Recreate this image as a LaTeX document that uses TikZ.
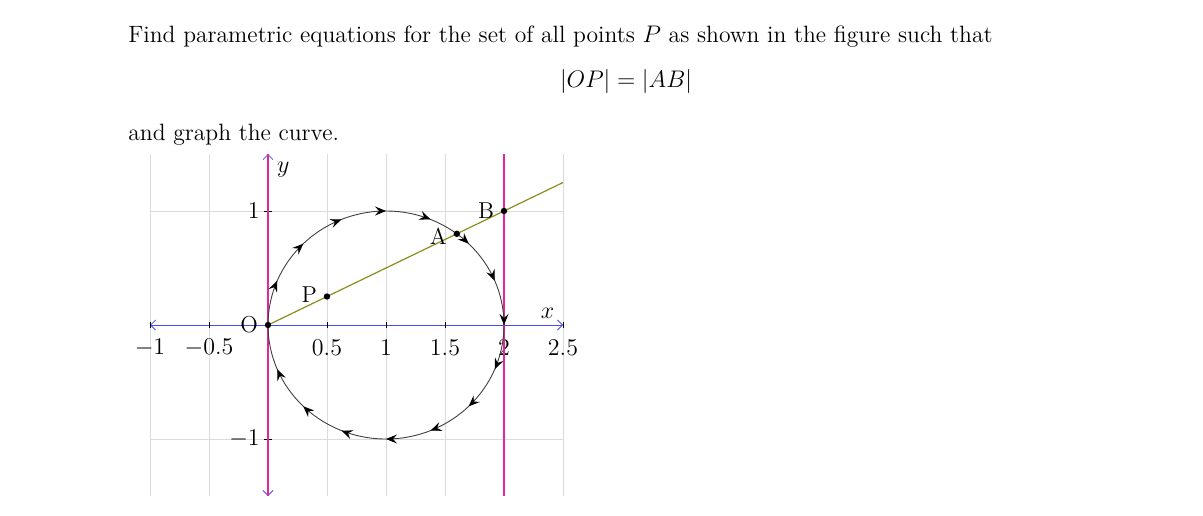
\documentclass[tikz,border=0pt]{standalone}
\usepackage{amsmath}
\usetikzlibrary{arrows.meta,decorations.markings}
\definecolor{Vline}{HTML}{E6259B}
\definecolor{Chord}{HTML}{8C8C1E}
\definecolor{Axis}{HTML}{4A4AF5}
\definecolor{Grid}{gray}{0.86}
\definecolor{Curve}{gray}{0.25}

\begin{document}
\begin{tikzpicture}[x=0.5pt, y=-0.5pt,
  txt/.style={anchor=base west, inner sep=0pt, font=\fontsize{11.8}{14}\selectfont},
  tick/.style={inner sep=1pt, font=\fontsize{11.5}{14}\selectfont},
  lab/.style={left, inner sep=3pt, font=\fontsize{11.5}{14}\selectfont},
  dot/.style={circle, fill=black, inner sep=0pt, minimum size=3.2pt},
  axisline/.style={draw=Axis, line width=0.4pt, {Straight Barb[length=2.5pt,width=5pt]}-{Straight Barb[length=2.5pt,width=5pt]}},
  vline/.style={draw=Vline, line width=0.8pt},
  chord/.style={draw=Chord, line width=0.6pt},
  loop/.style={draw=Curve, line width=0.45pt, postaction={decorate},
    decoration={markings, mark=between positions 0.0625 and 0.94 step 0.0625 with {\arrow[black]{Stealth[length=5.5pt,width=4.5pt,inset=2pt]}}}} ]
\useasboundingbox (0,0) rectangle (1203,515);

% question text
\node[txt] (q1) at (128,42) {Find parametric equations for the set of all points $P$ as shown in the figure such that};
\node[anchor=base, inner sep=0pt, font=\fontsize{11.8}{14}\selectfont] (eq) at (626,87) {$|OP| = |AB|$};
\node[txt] (q2) at (128,140) {and graph the curve.};

\begin{scope}[shift={(268,325)}, x=59pt, y=57pt]
% grid and axes
\draw[Grid, line width=0.4pt, xstep=0.5, ystep=1] (-1,-1.5) grid (2.5,1.5);
\coordinate (xl) at (-1,0);
\coordinate (xr) at (2.5,0);
\coordinate (yb) at (0,-1.5);
\coordinate (yt) at (0,1.5);
\draw[axisline] (xl) -- (xr);
\draw[axisline] (yb) -- (yt);
\node[font=\fontsize{11.8}{14}\selectfont] (xlab) at (2.37,0.1) {$x$};
\node[font=\fontsize{11.8}{14}\selectfont] (ylab) at (0.13,1.36) {$y$};

% ticks
\draw[black, line width=0.3pt]
  (-1,-0.03) -- (-1,0.03) (-0.5,-0.03) -- (-0.5,0.03) (0.5,-0.03) -- (0.5,0.03)
  (1,-0.03) -- (1,0.03) (1.5,-0.03) -- (1.5,0.03) (2,-0.03) -- (2,0.03) (2.5,-0.03) -- (2.5,0.03)
  (-0.03,1) -- (0.03,1) (-0.03,-1) -- (0.03,-1);
\node[tick] (tm1) at (-1,-0.2) {$-1$};
\node[tick] (tm05) at (-0.5,-0.2) {$-0.5$};
\node[tick] (t05) at (0.5,-0.2) {$0.5$};
\node[tick] (t1) at (1,-0.2) {$1$};
\node[tick] (t15) at (1.5,-0.2) {$1.5$};
\node[tick] (t2) at (2,-0.2) {$2$};
\node[tick] (t25) at (2.5,-0.2) {$2.5$};
\node[tick, anchor=east] (ty1) at (-0.05,1) {$1$};
\node[tick, anchor=east] (tym1) at (-0.05,-1) {$-1$};

% vertical lines
\coordinate (vb) at (2,-1.5);
\coordinate (vt) at (2,1.5);
\draw[vline] (yb) -- (yt);
\draw[vline] (vb) -- (vt);

% circle
\coordinate (O) at (0,0);
\draw[loop] (O) arc[start angle=180, end angle=-180, x radius=1, y radius=1];

% chord
\coordinate (end) at (2.5,1.25);
\draw[chord] (O) -- (end);

\node[dot] (o) at (0,0) {};
\node[dot] (p) at (0.5,0.25) {};
\node[dot] (a) at (1.6,0.8) {};
\node[dot] (b) at (2,1) {};
\node[lab] (olab) at (o.west) {O};
\node[lab, yshift=1pt] (plab) at (p.west) {P};
\node[lab, yshift=-1pt] (alab) at (a.west) {A};
\node[lab] (blab) at (b.west) {B};
\end{scope}
\end{tikzpicture}
\end{document}
